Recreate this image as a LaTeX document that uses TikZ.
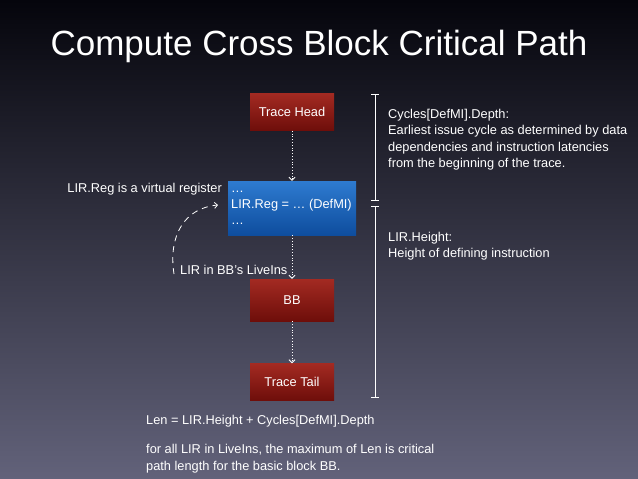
\documentclass[tikz,border=0pt]{standalone}
\usepackage{fontspec}
\setmainfont{Liberation Sans}
\usetikzlibrary{arrows.meta}
\definecolor{bgtop}{HTML}{05050C}
\definecolor{bgbot}{HTML}{62627A}
\definecolor{redtop}{HTML}{A32A22}
\definecolor{redbot}{HTML}{6E0E0A}
\definecolor{bluetop}{HTML}{2E7BD0}
\definecolor{bluebot}{HTML}{0E4D9E}
\begin{document}
\begin{tikzpicture}[x=1pt,y=-1pt,
  txt/.style={text=white,font=\fontsize{12.8}{15}\selectfont,inner sep=0pt},
  para/.style={txt,anchor=north west,align=left,font=\fontsize{12.8}{16.5}\selectfont},
  redbox/.style={minimum width=84pt,minimum height=37pt,top color=redtop,bottom color=redbot,draw=none,txt},
  flow/.style={white,dotted,thick,-{Straight Barb[length=3pt]}},
  bar/.style={white,thick}]
\shade[top color=bgtop,bottom color=bgbot] (0,0) rectangle (638,479);
\useasboundingbox (0,0) rectangle (638,479);
\node[text=white,font=\fontsize{35}{38}\selectfont] (title) at (319,46) {Compute Cross Block Critical Path};
\node[redbox] (head) at (292,112) {Trace Head};
\node[minimum width=128pt,minimum height=54pt,top color=bluetop,bottom color=bluebot,inner sep=0pt] (reg) at (292,208) {};
\node[txt,anchor=west,align=left,font=\fontsize{12.8}{16}\selectfont] (regtxt) at (231,208) {…\\LIR.Reg = … (DefMI)\\…};
\node[redbox,minimum height=42pt] (bb) at (292,300) {BB};
\node[redbox] (tail) at (292,382) {Trace Tail};
\draw[flow] (head) -- (reg);
\draw[flow] (reg) -- (bb);
\draw[flow] (bb) -- (tail);
\node[txt,anchor=east] (virt) at (222,189) {LIR.Reg is a virtual register};
\node[txt,anchor=west] (live) at (180,270) {LIR in BB’s LiveIns};
\coordinate (cs) at (174,274);
\coordinate (ce) at (218,205);
\draw[white,thick,dash pattern=on 6pt off 5pt,-{Straight Barb[length=3pt]}] (cs) .. controls (168,235) and (185,208) .. (ce);
\coordinate (b1t) at (375,94);
\coordinate (b1b) at (375,200);
\coordinate (b2t) at (375,206);
\coordinate (b2b) at (375,397);
\draw[bar] (b1t) -- (b1b);
\draw[bar] (b2t) -- (b2b);
\foreach \y in {94,200,206,397} \draw[bar] (371,\y) -- (379,\y);
\node[para] (depth) at (388,109) {Cycles[DefMI].Depth:\\Earliest issue cycle as determined by data\\dependencies and instruction latencies\\from the beginning of the trace.};
\node[para] (height) at (388,232) {LIR.Height:\\Height of defining instruction};
\node[para] (len) at (146,415) {Len = LIR.Height + Cycles[DefMI].Depth\\[13pt]for all LIR in LiveIns, the maximum of Len is critical\\path length for the basic block BB.};
\end{tikzpicture}
\end{document}
